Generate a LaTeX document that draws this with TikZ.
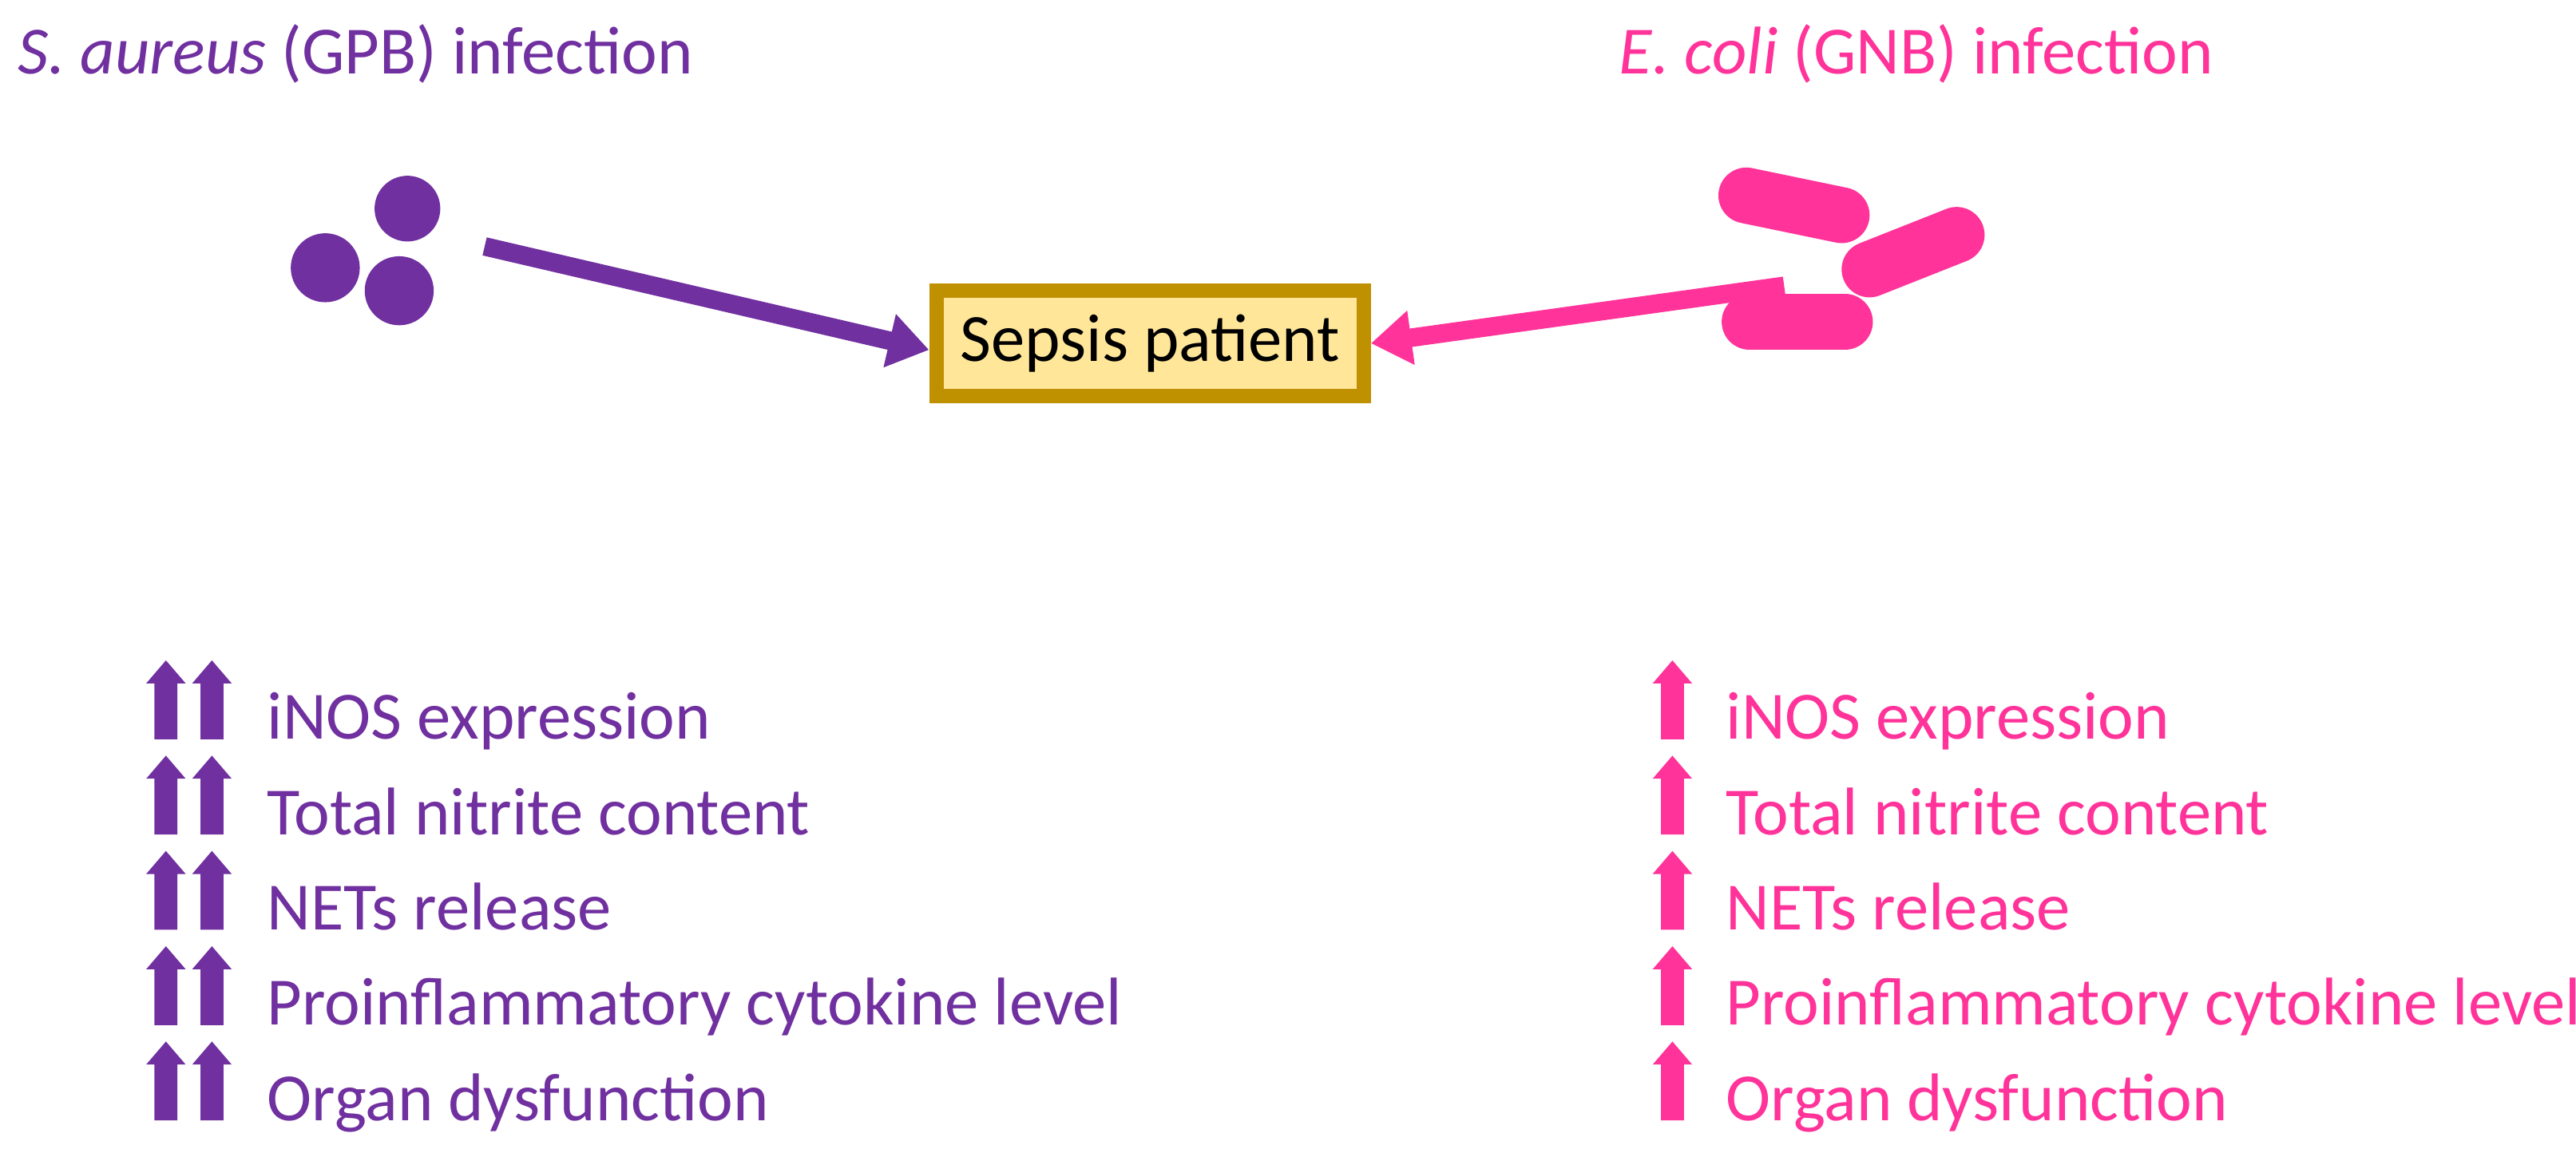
\documentclass[tikz,border=0pt]{standalone}
\usepackage{fontspec}
\setmainfont{Carlito}
\usetikzlibrary{arrows.meta}
\definecolor{pur}{HTML}{7030A0}
\definecolor{pnk}{HTML}{FF3399}
\definecolor{boxf}{HTML}{FFE699}
\definecolor{boxd}{HTML}{BF9000}
\begin{document}
\begin{tikzpicture}[x=0.01cm,y=-0.01cm,
  lbl/.style={anchor=base west,font=\fontsize{11.7}{13}\selectfont,inner sep=0pt},
  rod/.style={draw=pnk,line width=0.34cm,line cap=round},
  conn/.style={line width=3.2pt,-{Triangle[length=7pt,width=9pt]}}]
\useasboundingbox (0,0) rectangle (1568,704);
% titles
\node[lbl,text=pur] (tl) at (10,45) {\textit{S. aureus} (GPB) infection};
\node[lbl,text=pnk] (tr) at (985,45) {\textit{E. coli} (GNB) infection};
% cocci
\fill[pur] (248,127) circle (20);
\fill[pur] (198,163) circle (21);
\fill[pur] (243,177) circle (21);
\coordinate (sa) at (295,150);
\coordinate (ec) at (1086,174);
% box
\node[draw=boxd,fill=boxf,line width=2.5pt,
  minimum width=2.6cm,minimum height=0.64cm,font=\fontsize{11.7}{13}\selectfont] (sp) at (700,209) {Sepsis patient};
\draw[pur,conn] (sa) -- ([yshift=-0.04cm]sp.west);
\draw[pnk,conn] (ec) -- (sp.east);
\draw[rod] (1063,119) -- (1121,131);
\draw[rod] (1138,164) -- (1191,143);
\draw[rod] (1065,196) -- (1123,196);
% up arrows
\newcommand{\uparr}[3]{\fill[#3] (#1-7,#2) -- (#1+7,#2) -- (#1+7,#2-34) -- (#1+12,#2-34) -- (#1,#2-48) -- (#1-12,#2-34) -- (#1-7,#2-34) -- cycle;}
\foreach \y/\t [count=\i] in {450/iNOS expression,508/Total nitrite content,566/NETs release,624/Proinflammatory cytokine level,682/Organ dysfunction}{
  \uparr{101}{\y}{pur}
  \uparr{129}{\y}{pur}
  \node[lbl,text=pur] (l\i) at (162,\y) {\t};
  \uparr{1018}{\y}{pnk}
  \node[lbl,text=pnk] (r\i) at (1050,\y) {\t};
}
\end{tikzpicture}
\end{document}
